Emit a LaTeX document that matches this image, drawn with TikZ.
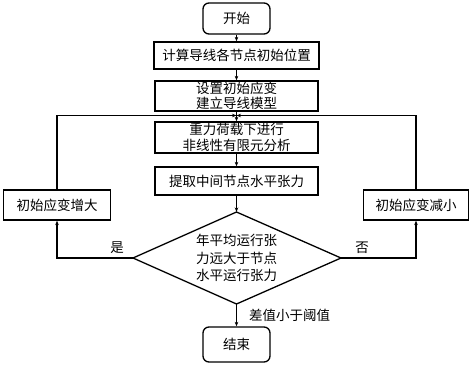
\documentclass[tikz,border=0pt]{standalone}
\usepackage{fontspec}
\setmainfont{Noto Sans CJK SC}
\usetikzlibrary{arrows.meta}
\begin{document}
\begin{tikzpicture}[x=1pt,y=-1pt,
  every node/.style={font=\fontsize{13.5pt}{16pt}\selectfont},
  box/.style={draw,line width=1.3pt,inner sep=0pt,align=center},
  term/.style={box,rounded corners=6pt},
  line/.style={line width=1.3pt},
  arr/.style={line,-{Stealth[length=4.5pt,width=3.5pt]}},
  lab/.style={inner sep=0pt}]
\useasboundingbox (0,0) rectangle (474,367);
\node[term,minimum width=67pt,minimum height=31pt] (start) at (236.5,18.5) {开始};
\node[box,minimum width=165pt,minimum height=27pt] (b2) at (236.5,55.5) {计算导线各节点初始位置};
\node[box,minimum width=163pt,minimum height=30pt] (b3) at (236.5,96) {设置初始应变\\[-1pt]建立导线模型};
\node[box,minimum width=163pt,minimum height=31pt] (b4) at (236.5,137.5) {重力荷载下进行\\非线性有限元分析};
\node[box,minimum width=163pt,minimum height=28pt] (b5) at (236.5,181) {提取中间节点水平张力};
\node[box,minimum width=107pt,minimum height=30pt] (lb) at (57,205) {初始应变增大};
\node[box,minimum width=105pt,minimum height=30pt] (rb) at (416,205) {初始应变减小};
\coordinate (dt) at (236.5,212);
\coordinate (db) at (236.5,304);
\coordinate (dl) at (133,258);
\coordinate (dr) at (341,258);
\draw[line] (dt) -- (dr) -- (db) -- (dl) -- cycle;
\node[lab,align=center,font=\fontsize{13.5pt}{17.5pt}\selectfont] (dtext) at (236.5,258) {年平均运行张\\力远大于节点\\水平运行张力};
\node[term,minimum width=67pt,minimum height=35pt] (end) at (236.5,344.5) {结束};
\coordinate (j) at (236.5,115.5);
\draw[arr] (start) -- (b2);
\draw[arr] (b2) -- (b3);
\draw[arr] (b3) -- (b4);
\draw[arr] (lb.north) |- (j);
\draw[arr] (rb.north) |- (j);
\draw[arr] (b4) -- (b5);
\draw[arr] (b5) -- (dt);
\draw[arr] (db) -- (end);
\draw[arr] (dl) -| (lb.south);
\draw[arr] (dr) -| (rb.south);
\node[lab] (yes) at (117,248) {是};
\node[lab] (no) at (362,248) {否};
\node[lab,anchor=west] (diff) at (249,315) {差值小于阈值};
\end{tikzpicture}
\end{document}
